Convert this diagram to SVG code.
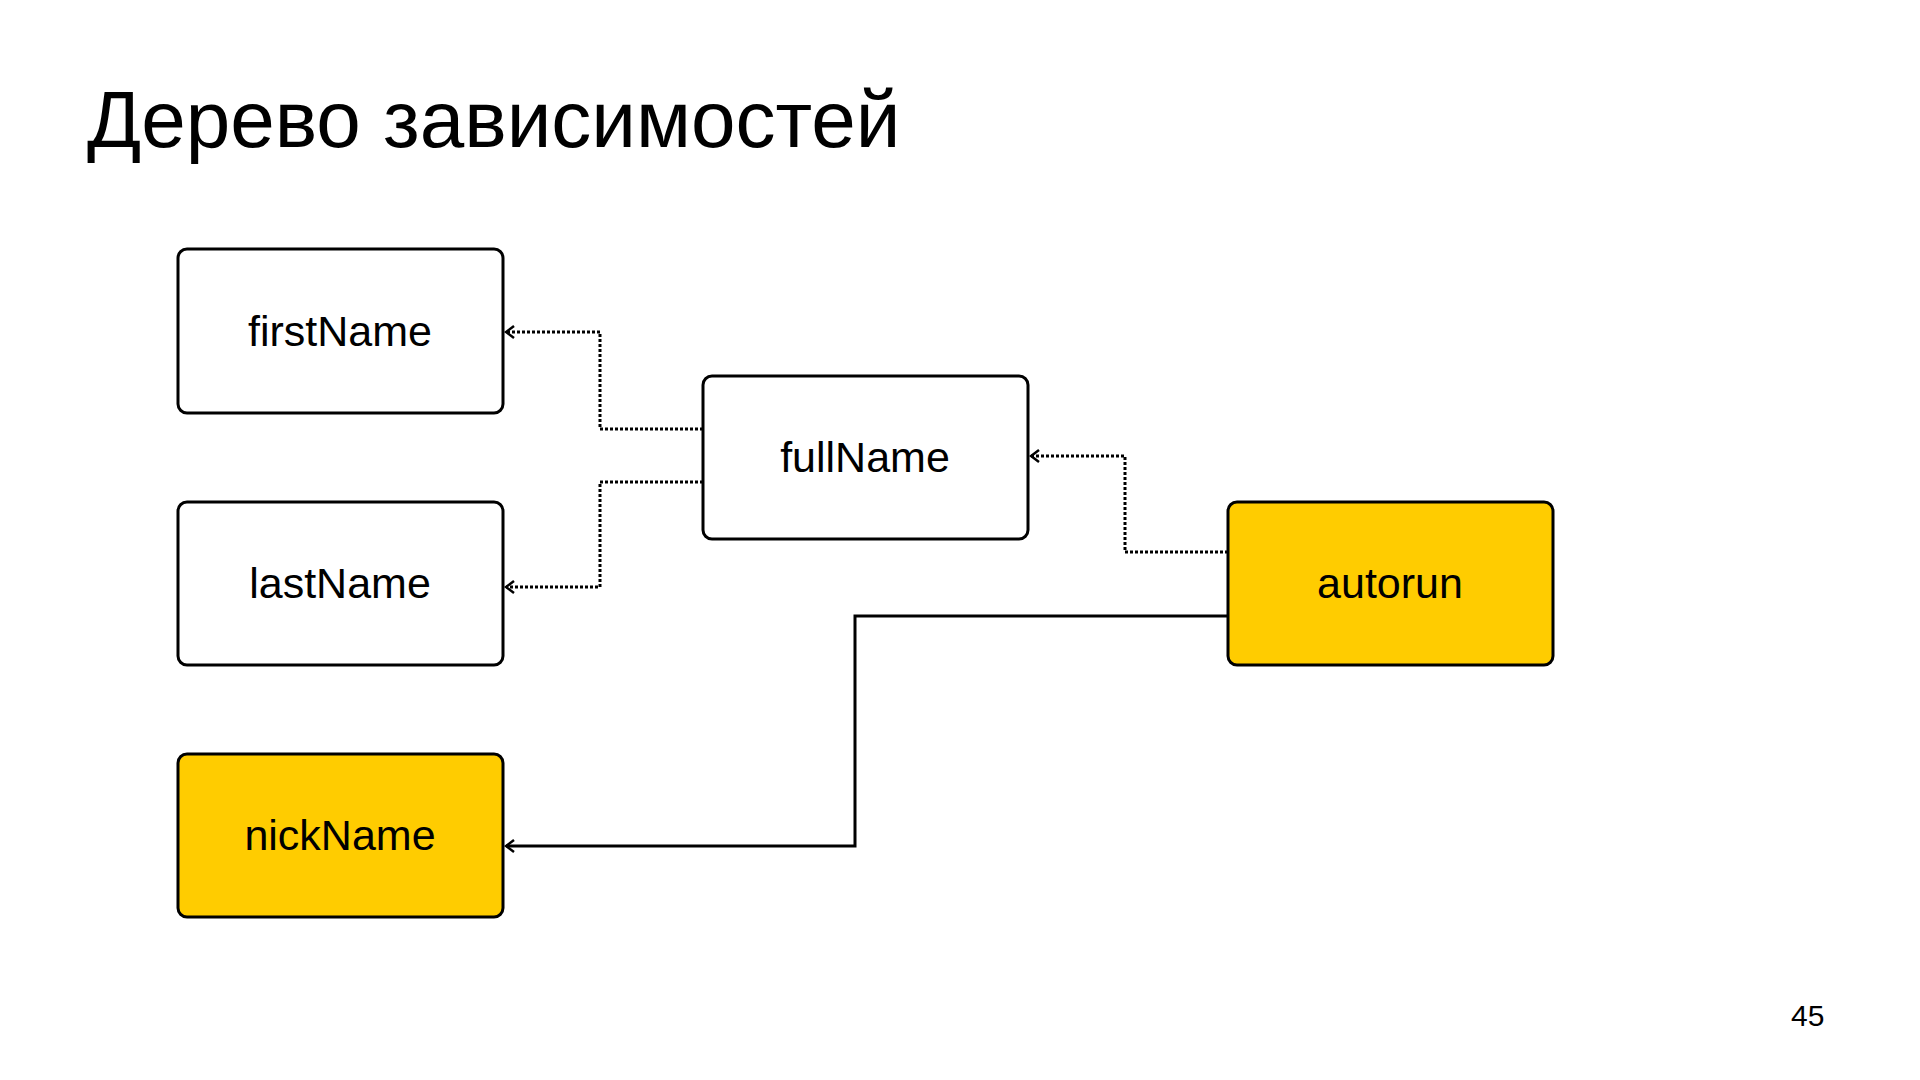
<svg xmlns="http://www.w3.org/2000/svg" width="1920" height="1080" viewBox="0 0 1920 1080">
<style>
.box{fill:#ffffff;stroke:#000;stroke-width:3}
.hl{fill:#FFCC00;stroke:#000;stroke-width:3}
.lbl{font-family:"Liberation Sans",Arial,sans-serif;font-size:43px;fill:#000;text-anchor:middle}
.title{font-family:"Liberation Sans",Arial,sans-serif;font-size:80px;fill:#000}
.pg{font-family:"Liberation Sans",Arial,sans-serif;font-size:30px;fill:#000}
.dot{fill:none;stroke:#000;stroke-width:3;stroke-dasharray:3 2}
.sol{fill:none;stroke:#000;stroke-width:3}
</style>
<defs>
<marker id="ah" markerWidth="12" markerHeight="16" refX="10" refY="8" orient="auto" markerUnits="userSpaceOnUse">
<path d="M2,2 L10,8 L2,14" fill="none" stroke="#000" stroke-width="2.5"/>
</marker>
</defs>
<rect width="1920" height="1080" fill="#fff"/>
<text class="title" x="87" y="147">Дерево зависимостей</text>
<g id="firstName">
<rect class="box" x="178" y="249" width="325" height="164" rx="9"/>
<text class="lbl" x="340" y="346">firstName</text>
</g>
<g id="lastName">
<rect class="box" x="178" y="502" width="325" height="163" rx="9"/>
<text class="lbl" x="340" y="598">lastName</text>
</g>
<g id="nickName">
<rect class="hl" x="178" y="754" width="325" height="163" rx="9"/>
<text class="lbl" x="340" y="850">nickName</text>
</g>
<g id="fullName">
<rect class="box" x="703" y="376" width="325" height="163" rx="9"/>
<text class="lbl" x="865" y="472">fullName</text>
</g>
<g id="autorun">
<rect class="hl" x="1228" y="502" width="325" height="163" rx="9"/>
<text class="lbl" x="1390" y="598">autorun</text>
</g>
<g id="connectors">
<path class="dot" d="M703,429 H600 V332 H506" marker-end="url(#ah)"/>
<path class="dot" d="M703,482 H600 V587 H506" marker-end="url(#ah)"/>
<path class="dot" d="M1228,552 H1125 V456 H1031" marker-end="url(#ah)"/>
<path class="sol" d="M1228,616 H855 V846 H506" marker-end="url(#ah)"/>
</g>
<text class="pg" x="1791" y="1026">45</text>
</svg>
